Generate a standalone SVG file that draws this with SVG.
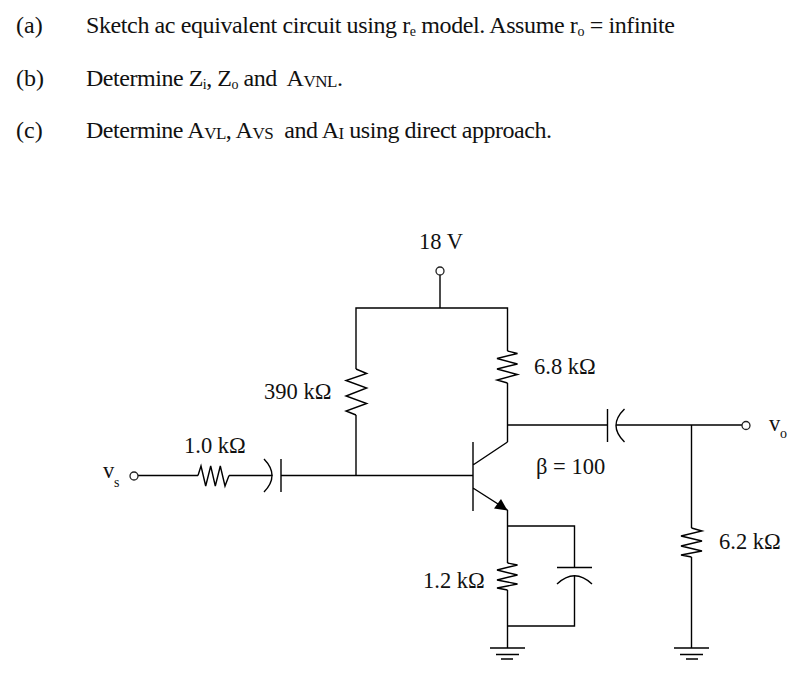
<svg xmlns="http://www.w3.org/2000/svg" width="811" height="679" viewBox="0 0 811 679">
<style>
text{font-family:"Liberation Serif","Times New Roman",serif;font-size:22.500px;fill:#111}
.q{font-size:24px}
.s{font-size:14px}
.u{font-size:17px}
.w{fill:none;stroke:#000;stroke-width:1.4}
.c{fill:#fff;stroke:#222;stroke-width:1.3}
</style>
<rect width="811" height="679" fill="#fff"/>
<g id="questions">
<text class="q" x="16" y="33">(a)</text>
<text class="q" x="86" y="33" textLength="589" lengthAdjust="spacing">Sketch ac equivalent circuit using r<tspan class="s" dy="3">e</tspan><tspan dy="-3"> model. Assume r</tspan><tspan class="s" dy="3">o</tspan><tspan dy="-3"> = infinite</tspan></text>
<text class="q" x="16" y="86">(b)</text>
<text class="q" x="86" y="86" textLength="257" lengthAdjust="spacing">Determine Z<tspan class="s" dy="3">i</tspan><tspan dy="-3">, Z</tspan><tspan class="s" dy="3">o</tspan><tspan dy="-3" xml:space="preserve"> and  A</tspan><tspan class="u" dy="1">VNL</tspan><tspan dy="-1">.</tspan></text>
<text class="q" x="16" y="138">(c)</text>
<text class="q" x="86" y="138" textLength="466" lengthAdjust="spacing">Determine A<tspan class="u" dy="1">VL</tspan><tspan dy="-1">, A</tspan><tspan class="u" dy="1">VS</tspan><tspan dy="-1" xml:space="preserve">  and A</tspan><tspan class="u" dy="1">I</tspan><tspan dy="-1"> using direct approach.</tspan></text>
</g>
<g id="connectors" class="w">
<path class="w" d="M440 275V308M356 369V308H507.500V351M507.500 383V442"/>
<path class="w" d="M138 475.500H198M229 475.500H272.500M281 475.500H473M356 475.500V415"/>
<path class="w" d="M507.500 425H607.500M616 425H742M691.500 425V528M691.500 557V648"/>
<path class="w" d="M507.500 510V563M507.500 590V648M507.500 526H574.500V567.500M574.500 575.700V626H507.500"/>
</g>
<g id="r390"><path class="w" d="M356 369L366.700 373.500L346 380.500L366.700 388L346 396L366.700 403.500L346 411L356 415"/></g>
<g id="r68"><path class="w" d="M507.500 351L517.500 353.500L497 358.500L517.500 364L497 369L517.500 374.500L497 380L507.500 383"/></g>
<g id="r10"><path class="w" d="M198 475.500L201 466L205.700 486L210.700 466L215.300 486L220.300 466L225 486L229 475.500"/></g>
<g id="r12"><path class="w" d="M507.500 563L517.500 565L497 570L517.500 575L497 580L517.500 584L497 588L507.500 590"/></g>
<g id="r62"><path class="w" d="M691.500 528L702 531L681 536L702 541L681 546L702 551L681 555L691.500 557"/></g>
<g id="c1"><path class="w" d="M264 459Q280 475.500 264 492M281 459V492"/></g>
<g id="c2"><path class="w" d="M607.500 409V442M624.500 409Q607.500 425.500 624.500 442"/></g>
<g id="c3"><path class="w" d="M557 567.500H592M557 584Q574.500 567.400 592 584"/></g>
<g id="transistor">
<path class="w" d="M473 442V511M473 465L507.500 442M473 488L507.500 510"/>
<path d="M507.500 510.500L494 508.500L501 499Z" fill="#000"/>
</g>
<g id="terminals">
<circle class="c" cx="440" cy="271" r="4"/>
<circle class="c" cx="134" cy="476" r="4"/>
<circle class="c" cx="746" cy="425.500" r="4"/>
</g>
<g id="gnd1"><path class="w" d="M490 648H525M496 654.500H519M501 659H513"/></g>
<g id="gnd2"><path class="w" d="M674 648H709M680 654.500H703M686 659H698"/></g>
<g id="labels">
<text x="419" y="249">18 V</text>
<text x="264" y="399">390 kΩ</text>
<text x="534" y="374">6.8 kΩ</text>
<text x="184" y="453">1.0 kΩ</text>
<text x="536" y="474">β = 100</text>
<text x="719" y="549">6.2 kΩ</text>
<text x="423" y="588">1.2 kΩ</text>
<text x="103" y="478" font-size="20">v</text>
<text x="114" y="487" class="s">s</text>
<text x="769" y="431" font-size="20">v</text>
<text x="780" y="438" class="s">o</text>
</g>
</svg>
